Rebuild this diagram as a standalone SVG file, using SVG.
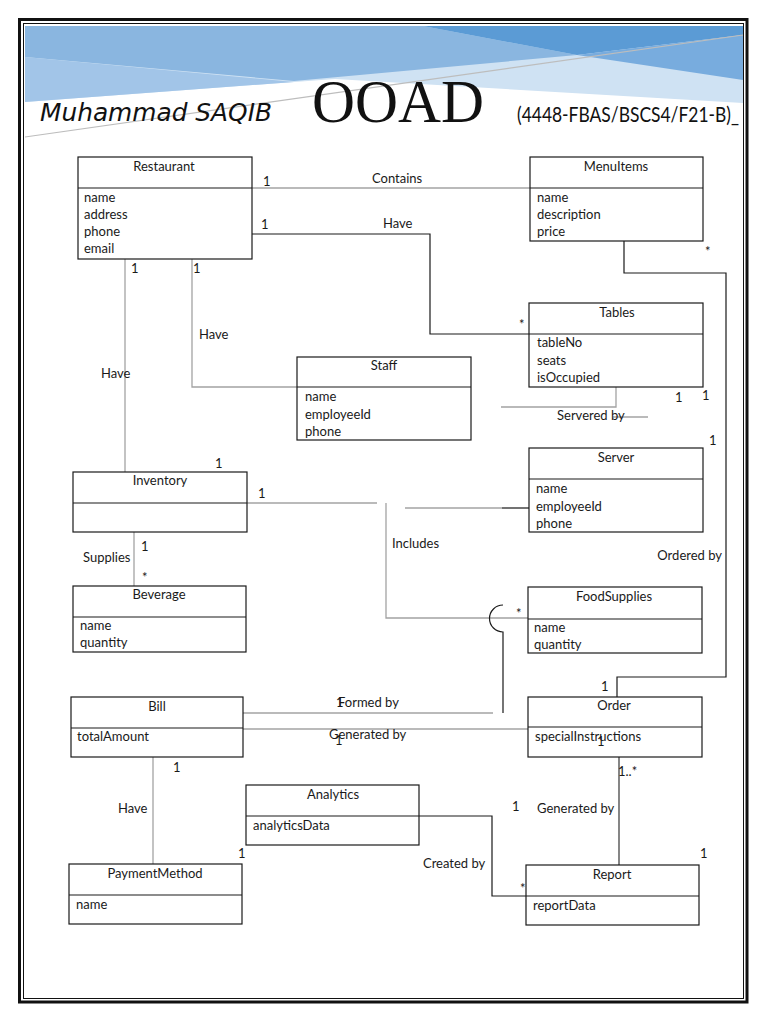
<svg xmlns="http://www.w3.org/2000/svg" width="768" height="1024" viewBox="0 0 768 1024">
<style>
.box{fill:#fff;stroke:#1a1a1a;stroke-width:1.2}
.dv{stroke:#1a1a1a;stroke-width:1.2}
.t{font-family:Lato,"Open Sans","Liberation Sans",sans-serif;font-size:13px;fill:#1a1a1a}
.c{text-anchor:middle}
.g{stroke:#a3a3a3;fill:none;stroke-width:1.3}
.k{stroke:#1a1a1a;fill:none;stroke-width:1.2}
.d{stroke:#444;fill:none;stroke-width:1.3}
</style>
<rect width="768" height="1024" fill="#fff"/>
<!-- banner -->
<g id="banner">
<polygon points="25,26 743,26 743,103 335,79 25,102" fill="#cfe2f3"/>
<polygon points="25,26 423,26 577,55 294,81 25,57" fill="#8ab6e0"/>
<polygon points="25,57 294,82 25,102" fill="#a2c5e8"/>
<polygon points="423,26 743,26 743,35 577,55" fill="#5b9bd5"/>
<polygon points="577,55 743,35 743,80" fill="#78acde"/>
<line x1="25" y1="137" x2="743" y2="35" stroke="#bdbdbd" stroke-width="1.2"/>
<text x="40" y="121" font-family="'DejaVu Sans',sans-serif" font-style="italic" font-size="24" fill="#111" textLength="232" lengthAdjust="spacingAndGlyphs">Muhammad SAQIB</text>
<text x="312" y="122" font-family="'Liberation Serif',serif" font-size="62" fill="#111" textLength="172" lengthAdjust="spacingAndGlyphs">OOAD</text>
<text x="517" y="122" font-family="Lato,'Liberation Sans',sans-serif" font-size="21" fill="#111" textLength="222" lengthAdjust="spacingAndGlyphs">(4448-FBAS/BSCS4/F21-B)_</text>
</g>
<!-- frame -->
<rect x="19.5" y="19.5" width="727.5" height="982.5" fill="none" stroke="#111" stroke-width="3"/>
<rect x="23.5" y="23.5" width="720" height="975" fill="none" stroke="#111" stroke-width="1"/>

<!-- connectors -->
<g id="connectors">
<path class="g" d="M252,188 H530"/>
<path class="g" d="M125,259 V472"/>
<path class="g" d="M192,259 V387 H297"/>
<path class="g" d="M616,387 V407 H501"/>
<path class="g" d="M613,417 H648"/>
<path class="g" d="M247,503 H377"/>
<path class="g" d="M386,503 V618 H528"/>
<path class="g" d="M405,508 H502"/>
<path class="d" d="M502,508 H602"/>
<path class="g" d="M134,532 V586"/>
<path class="g" d="M243,713 H493"/>
<path class="g" d="M243,729 H528"/>
<path class="g" d="M153,757 V864"/>
<path class="k" d="M252,234 H430 V334 H529"/>
<path class="k" d="M624,241 V273 H726 V677 H617 V697"/>
<path class="k" d="M503,605 A13.5,13.5 0 0 0 503,632 V713"/>
<path class="d" d="M619,757 V865"/>
<path class="k" d="M419,816 H492 V896 H526"/>
<g class="t">
<text x="263" y="186">1</text>
<text x="372" y="183">Contains</text>
<text x="261" y="229">1</text>
<text x="383" y="228">Have</text>
<text x="598" y="186">*</text>
<text x="705" y="256">*</text>
<text x="519" y="329">*</text>
<text x="131" y="273">1</text>
<text x="193" y="273">1</text>
<text x="101" y="378">Have</text>
<text x="199" y="339">Have</text>
<text x="360" y="385">*</text>
<text x="675" y="402">1</text>
<text x="702" y="400">1</text>
<text x="709" y="445">1</text>
<text x="557" y="420">Servered by</text>
<text x="215" y="468">1</text>
<text x="258" y="498">1</text>
<text x="392" y="548">Includes</text>
<text x="722" y="560" text-anchor="end">Ordered by</text>
<text x="516" y="618">*</text>
<text x="141" y="551">1</text>
<text x="142" y="582">*</text>
<text x="83" y="562">Supplies</text>
<text x="601" y="691">1</text>
<text x="336" y="707">1</text>
<text x="338" y="707">Formed by</text>
<text x="329" y="739">Generated by</text>
<text x="335" y="745">1</text>
<text x="173" y="772">1</text>
<text x="118" y="813">Have</text>
<text x="618" y="776">1..*</text>
<text x="512" y="811">1</text>
<text x="537" y="813">Generated by</text>
<text x="700" y="858">1</text>
<text x="238" y="858">1</text>
<text x="423" y="868">Created by</text>
<text x="520" y="893">*</text>
</g>
</g>

<!-- nodes -->
<g id="restaurant">
<rect class="box" x="78" y="157" width="174" height="102"/>
<line class="dv" x1="78" y1="188" x2="252" y2="188"/>
<text class="t c" x="164" y="171">Restaurant</text>
<text class="t" x="84" y="202">name</text>
<text class="t" x="84" y="219">address</text>
<text class="t" x="84" y="236">phone</text>
<text class="t" x="84" y="253">email</text>
</g>
<g id="menuitems">
<rect class="box" x="530" y="157" width="173" height="84"/>
<line class="dv" x1="530" y1="188" x2="703" y2="188"/>
<text class="t c" x="616" y="171">MenuItems</text>
<text class="t" x="537" y="202">name</text>
<text class="t" x="537" y="219">description</text>
<text class="t" x="537" y="236">price</text>
</g>
<g id="tables">
<rect class="box" x="529" y="303" width="174" height="84"/>
<line class="dv" x1="529" y1="334" x2="703" y2="334"/>
<text class="t c" x="617" y="317">Tables</text>
<text class="t" x="537" y="347">tableNo</text>
<text class="t" x="537" y="365">seats</text>
<text class="t" x="537" y="382">isOccupied</text>
</g>
<g id="staff">
<rect class="box" x="297" y="357" width="174" height="83"/>
<line class="dv" x1="297" y1="387" x2="471" y2="387"/>
<text class="t c" x="384" y="370">Staff</text>
<text class="t" x="305" y="401">name</text>
<text class="t" x="305" y="419">employeeId</text>
<text class="t" x="305" y="436">phone</text>
</g>
<g id="server">
<rect class="box" x="529" y="448" width="174" height="84"/>
<line class="dv" x1="529" y1="479" x2="703" y2="479"/>
<text class="t c" x="616" y="462">Server</text>
<text class="t" x="536" y="493">name</text>
<text class="t" x="536" y="511">employeeId</text>
<text class="t" x="536" y="528">phone</text>
</g>
<g id="inventory">
<rect class="box" x="73" y="472" width="174" height="60"/>
<line class="dv" x1="73" y1="503" x2="247" y2="503"/>
<text class="t c" x="160" y="485">Inventory</text>
</g>
<g id="foodsupplies">
<rect class="box" x="528" y="587" width="174" height="66"/>
<line class="dv" x1="528" y1="619" x2="702" y2="619"/>
<text class="t c" x="614" y="601">FoodSupplies</text>
<text class="t" x="534" y="632">name</text>
<text class="t" x="534" y="649">quantity</text>
</g>
<g id="beverage">
<rect class="box" x="73" y="586" width="173" height="66"/>
<line class="dv" x1="73" y1="617" x2="246" y2="617"/>
<text class="t c" x="159" y="599">Beverage</text>
<text class="t" x="80" y="630">name</text>
<text class="t" x="80" y="647">quantity</text>
</g>
<g id="bill">
<rect class="box" x="71" y="697" width="172" height="60"/>
<line class="dv" x1="71" y1="728" x2="243" y2="728"/>
<text class="t c" x="157" y="711">Bill</text>
<text class="t" x="77" y="741">totalAmount</text>
</g>
<g id="order">
<rect class="box" x="528" y="697" width="174" height="60"/>
<line class="dv" x1="528" y1="727" x2="702" y2="727"/>
<text class="t c" x="614" y="710">Order</text>
<text class="t" x="535" y="741">specialInstructions</text>
<text class="t" x="597" y="746">1</text>
</g>
<g id="analytics">
<rect class="box" x="246" y="785" width="173" height="60"/>
<line class="dv" x1="246" y1="816" x2="419" y2="816"/>
<text class="t c" x="333" y="799">Analytics</text>
<text class="t" x="253" y="830">analyticsData</text>
</g>
<g id="paymentmethod">
<rect class="box" x="69" y="864" width="173" height="60"/>
<line class="dv" x1="69" y1="895" x2="242" y2="895"/>
<text class="t c" x="155" y="878">PaymentMethod</text>
<text class="t" x="76" y="909">name</text>
</g>
<g id="report">
<rect class="box" x="526" y="865" width="173" height="60"/>
<line class="dv" x1="526" y1="896" x2="699" y2="896"/>
<text class="t c" x="612" y="879">Report</text>
<text class="t" x="533" y="910">reportData</text>
</g>
</svg>
